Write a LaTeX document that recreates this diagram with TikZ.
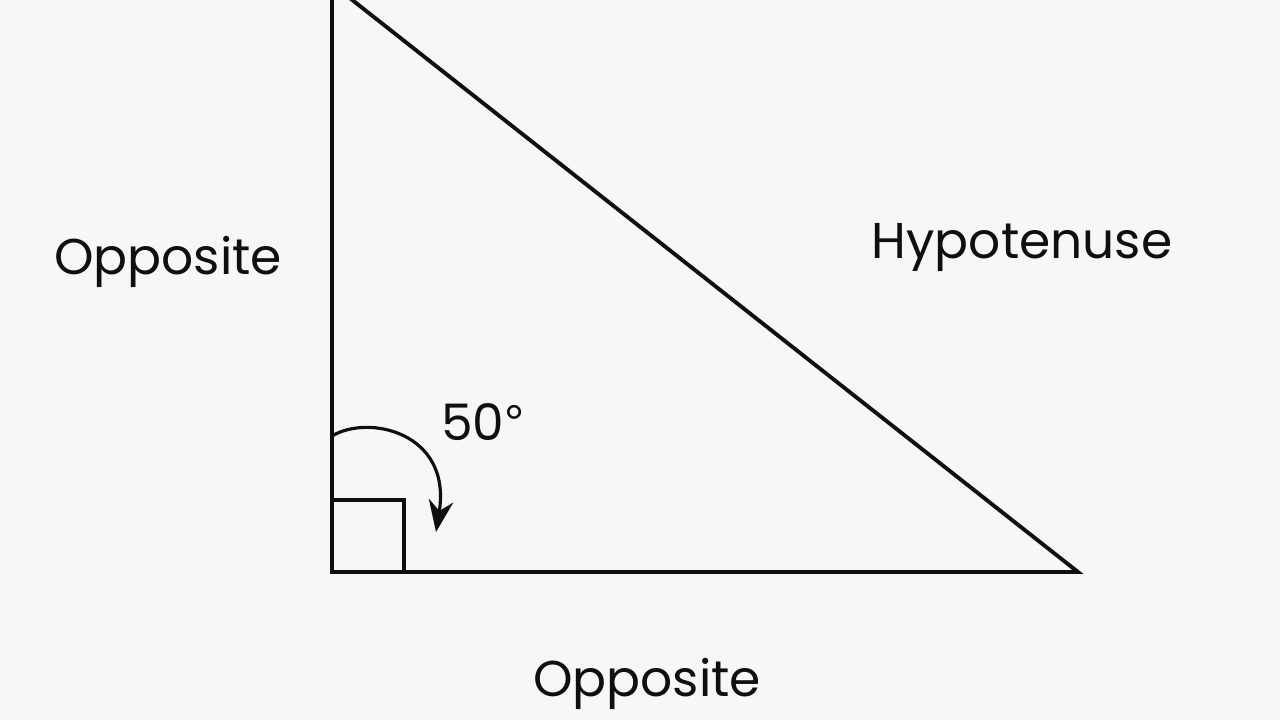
\documentclass[tikz,border=0pt]{standalone}
\usepackage{fontspec}
\setmainfont{Poppins}
\newfontfamily\degfont{Liberation Sans}
\usepackage{tikz}
\usetikzlibrary{arrows.meta, positioning, calc}
\definecolor{paper}{RGB}{247, 247, 247}
\definecolor{ink}{RGB}{15, 15, 15}

\begin{document}
\begin{tikzpicture}[x=0.01cm, y=-0.01cm,
    side/.style={line width=1.1pt, ink},
    lbl/.style={font=\fontsize{14.3}{17}\selectfont, text=ink, inner sep=0pt}]
    % Frame
    \fill[paper] (0,0) rectangle (1280,720);
    \useasboundingbox (0,0) rectangle (1280,720);

    % Triangle corners
    \coordinate (apex) at (332,-16);
    \coordinate (corner) at (332,572);
    \coordinate (base) at (1078,572);

    \begin{scope}
        \clip (0,0) rectangle (1280,720);
        \draw[side, line join=miter] (apex) -- (corner) -- (base) -- cycle;
    \end{scope}

    % Right angle mark
    \draw[side] ($(corner)+(0,-72)$) -| ($(corner)+(72,0)$);

    % Angle arrow
    \draw[side, line width=0.9pt, -{Stealth[length=9pt, width=7pt]}]
        (332,436) .. controls (368,414) and (452,432) .. (436,532);

    % Labels
    \node[lbl] (angle) at (483,422) {50{\degfont °}};
    \node[lbl] (left) at (168,262) {Opposite};
    \node[lbl] (hyp) at (1022,247) {Hypotenuse};
    \node[lbl] (bottom) at (647,684) {Opposite};
\end{tikzpicture}
\end{document}
